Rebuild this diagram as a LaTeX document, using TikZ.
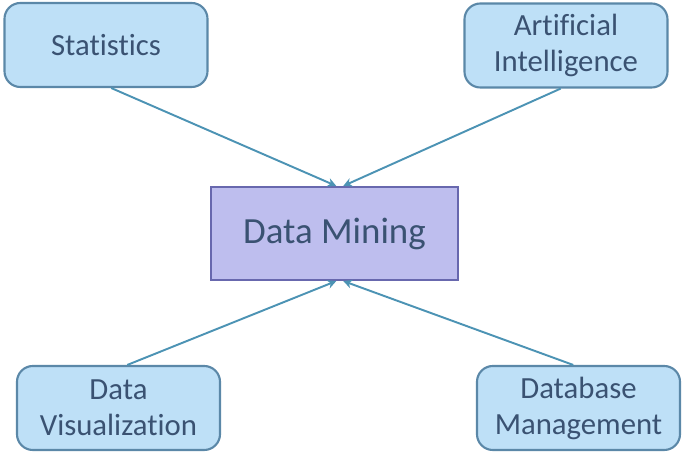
\documentclass[tikz,border=0pt]{standalone}
\usepackage{fontspec}
\setmainfont[Ligatures={NoCommon}]{Carlito}
\usetikzlibrary{arrows.meta,positioning}
\definecolor{topicfill}{HTML}{BEE0F7}
\definecolor{topicline}{HTML}{5B88A8}
\definecolor{corefill}{HTML}{BEBEEE}
\definecolor{coreline}{HTML}{6868AE}
\definecolor{labeltext}{HTML}{3A5272}
\definecolor{linkcol}{HTML}{4C93B4}
\tikzset{
  topic/.style={draw=topicline,fill=topicfill,rounded corners=9pt,line width=1.2pt,
    minimum width=4.06cm,minimum height=1.68cm,align=center,text=labeltext,
    font=\fontsize{17.5}{20.5}\selectfont},
  core/.style={draw=coreline,fill=corefill,line width=1.2pt,minimum width=4.94cm,
    minimum height=1.86cm,align=center,text=labeltext,font=\fontsize{21}{24}\selectfont},
  link/.style={->,draw=linkcol,line width=1.1pt}
}
\begin{document}
\begin{tikzpicture}[>={Stealth[length=5pt,width=5pt]}]
  \useasboundingbox (0,0) rectangle (13.7,9.12);
  \node[core] (dm) at (6.69,4.45) {Data Mining};
  \node[topic] (stat) at (2.12,8.22) {Statistics};
  \node[topic] (ai) at (11.32,8.21) {Artificial\\Intelligence};
  \node[topic] (dv) at (2.37,0.96) {Data\\Visualization};
  \node[topic] (db) at (11.57,0.96) {Database\\Management};

  \draw[link] ([xshift=3pt]stat.south)--([xshift=1pt]dm.north);
  \draw[link] ([xshift=-3pt]ai.south)--([xshift=5pt]dm.north);
  \draw[link] ([xshift=5pt]dv.north)--([xshift=1pt]dm.south);
  \draw[link] ([xshift=-3pt]db.north)--([xshift=5pt]dm.south);
\end{tikzpicture}
\end{document}
